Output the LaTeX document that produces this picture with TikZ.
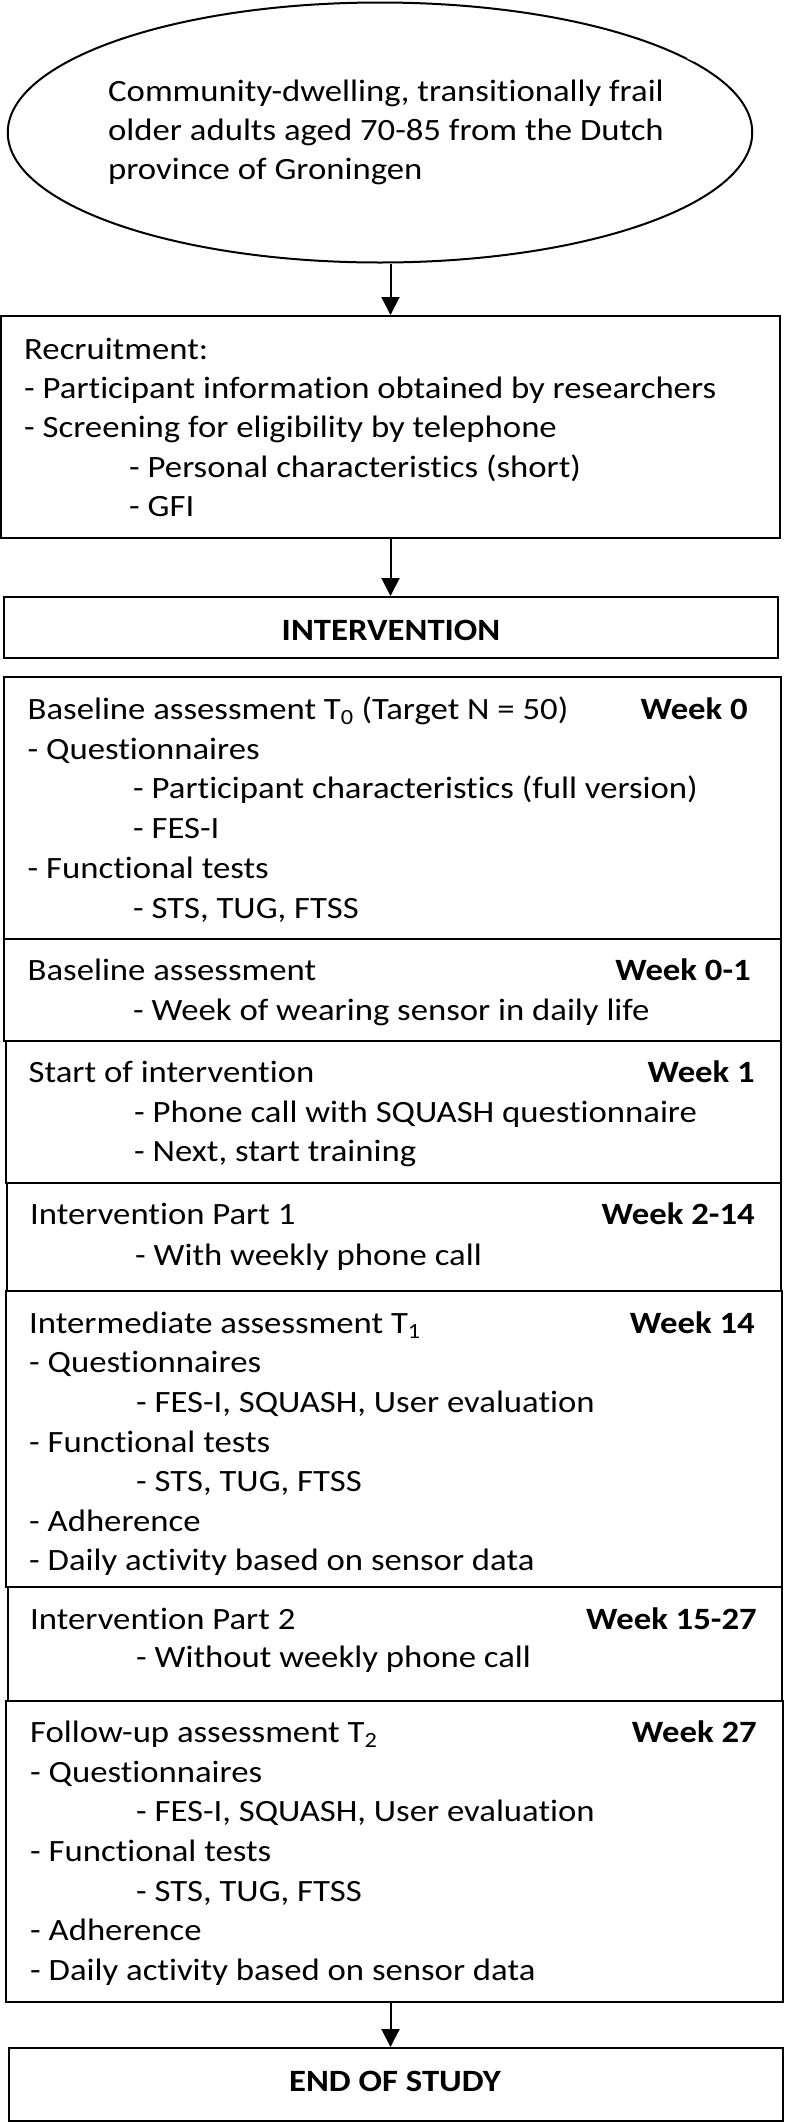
\documentclass[tikz,border=0pt]{standalone}
\usepackage{fontspec}
\setmainfont{Carlito}[FakeStretch=1.12,Ligatures=NoCommon]
\usetikzlibrary{arrows.meta,shapes.geometric}
\begin{document}
\begin{tikzpicture}[x=1pt,y=-1pt,
  box/.style={draw, line width=2pt, rectangle, inner sep=0pt},
  txt/.style={anchor=base west, inner sep=0pt, font=\fontsize{31}{39}\selectfont},
  wk/.style={anchor=base east, inner sep=0pt, font=\fontsize{31}{39}\selectfont\bfseries},
  ttl/.style={anchor=base, inner sep=0pt, font=\fontsize{31}{39}\selectfont\bfseries},
  arr/.style={-{Triangle[width=18pt,length=18pt]}, line width=2pt}]
\useasboundingbox (0,0) rectangle (785,2123);
% shapes
\node[draw, ellipse, line width=2pt, inner sep=0pt, minimum width=744.5pt, minimum height=260pt] (pop) at (380,132.5) {};
\draw[white, line width=3.5pt] (688,57) -- (695,60);
\node[box, minimum width=779pt, minimum height=222pt] (rec) at (390.5,427) {};
\node[box, minimum width=774pt, minimum height=61pt] (intv) at (391,627.5) {};
\node[box, minimum width=777pt, minimum height=262pt] (t0) at (392.5,808) {};
\node[box, minimum width=777pt, minimum height=102pt] (b2) at (392.5,990) {};
\node[box, minimum width=775pt, minimum height=142pt] (st) at (393.5,1112) {};
\node[box, minimum width=774pt, minimum height=108pt] (p1) at (394,1237) {};
\node[box, minimum width=776pt, minimum height=296pt] (im) at (394,1439) {};
\node[box, minimum width=774.5pt, minimum height=114pt] (p2) at (394.75,1644) {};
\node[box, minimum width=777pt, minimum height=301pt] (fu) at (394.5,1851.5) {};
\node[box, minimum width=774pt, minimum height=73pt] (endb) at (396,2084.5) {};
% arrows
\draw[arr] (pop.south -| rec.north) -- (rec.north);
\draw[arr] (rec.south) -- (rec.south |- intv.north);
\draw[arr] (fu.south -| rec.south) -- (endb.north -| rec.south);
% ellipse text
\node[txt] (e1) at (108,101) {Community-dwelling, transitionally frail};
\node[txt] (e2) at (108,140) {older adults aged 70-85 from the Dutch};
\node[txt] (e3) at (108,179) {province of Groningen};
% recruitment
\node[txt] (r1) at (24,359) {Recruitment:};
\node[txt] (r2) at (24,398) {- Participant information obtained by researchers};
\node[txt] (r3) at (24,437) {- Screening for eligibility by telephone};
\node[txt] (r4) at (129,477) {- Personal characteristics (short)};
\node[txt] (r5) at (129,516) {- GFI};
% intervention
\node[ttl] (it) at (391,640) {INTERVENTION};
% T0
\node[txt] (a1) at (27.5,719) {Baseline assessment T\textsubscript{0} (Target N = 50)};
\node[wk] (aw) at (748,719) {Week 0};
\node[txt] (a2) at (27.5,759) {- Questionnaires};
\node[txt] (a3) at (133,798) {- Participant characteristics (full version)};
\node[txt] (a4) at (133,838) {- FES-I};
\node[txt] (a5) at (27.5,878) {- Functional tests};
\node[txt] (a6) at (133,918) {- STS, TUG, FTSS};
% baseline week
\node[txt] (b1) at (27.5,980) {Baseline assessment};
\node[wk] (bw) at (751,980) {Week 0-1};
\node[txt] (b3) at (133,1020) {- Week of wearing sensor in daily life};
% start
\node[txt] (c1) at (28.5,1082) {Start of intervention};
\node[wk] (cw) at (755,1082) {Week 1};
\node[txt] (c2) at (134,1122) {- Phone call with SQUASH questionnaire};
\node[txt] (c3) at (134,1161) {- Next, start training};
% part 1
\node[txt] (d1) at (30,1224) {Intervention Part 1};
\node[wk] (dw) at (755,1224) {Week 2-14};
\node[txt] (d2) at (135,1265) {- With weekly phone call};
% intermediate
\node[txt] (f1) at (29,1333) {Intermediate assessment T\textsubscript{1}};
\node[wk] (fw) at (755,1333) {Week 14};
\node[txt] (f2) at (29,1372) {- Questionnaires};
\node[txt] (f3) at (136,1412) {- FES-I, SQUASH, User evaluation};
\node[txt] (f4) at (29,1452) {- Functional tests};
\node[txt] (f5) at (136,1491) {- STS, TUG, FTSS};
\node[txt] (f6) at (29,1531) {- Adherence};
\node[txt] (f7) at (29,1570) {- Daily activity based on sensor data};
% part 2
\node[txt] (g1) at (30,1629) {Intervention Part 2};
\node[wk] (gw) at (757,1629) {Week 15-27};
\node[txt] (g2) at (136,1667) {- Without weekly phone call};
% follow-up
\node[txt] (h1) at (30,1742) {Follow-up assessment T\textsubscript{2}};
\node[wk] (hw) at (757,1742) {Week 27};
\node[txt] (h2) at (30,1782) {- Questionnaires};
\node[txt] (h3) at (136,1821) {- FES-I, SQUASH, User evaluation};
\node[txt] (h4) at (30,1861) {- Functional tests};
\node[txt] (h5) at (136,1901) {- STS, TUG, FTSS};
\node[txt] (h6) at (30,1940) {- Adherence};
\node[txt] (h7) at (30,1980) {- Daily activity based on sensor data};
% end
\node[ttl] (et) at (395,2091) {END OF STUDY};
\end{tikzpicture}
\end{document}
